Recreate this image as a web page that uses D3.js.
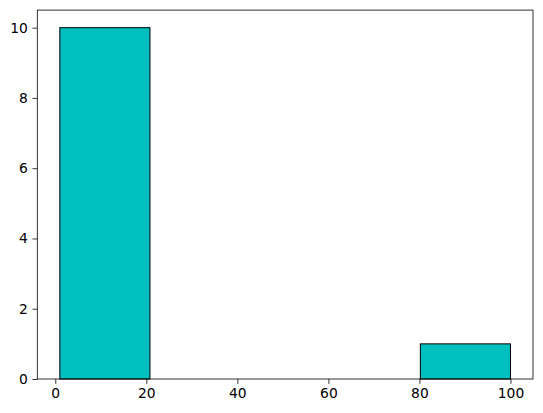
<!DOCTYPE html>
<html><head><meta charset="utf-8">
<script src="https://cdn.jsdelivr.net/npm/d3@7"></script>
<style>body{margin:0;background:#fff}svg{display:block}</style>
</head><body>
<script>
const binEdges = [1, 20.8, 40.6, 60.4, 80.2, 100];
const counts = [10, 0, 0, 0, 1];
const xTicks = [0, 20, 40, 60, 80, 100];
const yTicks = [0, 2, 4, 6, 8, 10];

const W = 543, H = 413;
const L = 37.3, R = 533, T = 10.1, B = 379;
const svg = d3.select("body").append("svg").attr("width", W).attr("height", H);
const span = binEdges[binEdges.length-1] - binEdges[0];
const x = d3.scaleLinear().domain([binEdges[0] - 0.05*span, binEdges[binEdges.length-1] + 0.05*span]).range([L, R]);
const y = d3.scaleLinear().domain([0, d3.max(counts)*1.05]).range([B, T]);

const bins = counts.map((c, i) => ({x0: binEdges[i], x1: binEdges[i+1], c}));
svg.append("g").selectAll("rect").data(bins).join("rect")
  .attr("x", d => x(d.x0)).attr("width", d => x(d.x1) - x(d.x0))
  .attr("y", d => y(d.c)).attr("height", d => y(0) - y(d.c))
  .attr("fill", "#00bfbf").attr("stroke", "#000").attr("stroke-width", 1);

const font = "DejaVu Sans, sans-serif";
const xa = svg.append("g").attr("transform", `translate(0,${B})`)
  .call(d3.axisBottom(x).tickValues(xTicks).tickSize(4.86).tickPadding(4.5).tickFormat(d3.format("d")));
const ya = svg.append("g").attr("transform", `translate(${L},0)`)
  .call(d3.axisLeft(y).tickValues(yTicks).tickSize(4.86).tickPadding(4.5).tickFormat(d3.format("d")));
[xa, ya].forEach(a => {
  a.select(".domain").remove();
  a.selectAll("line").attr("stroke", "#000").attr("stroke-width", 0.8);
  a.selectAll("text").attr("font-family", font).attr("font-size", 13.89).attr("fill", "#000");
});
svg.append("rect").attr("x", L).attr("y", T).attr("width", R - L).attr("height", B - T)
  .attr("fill", "none").attr("stroke", "#000").attr("stroke-width", 0.8);
</script>
</body></html>
